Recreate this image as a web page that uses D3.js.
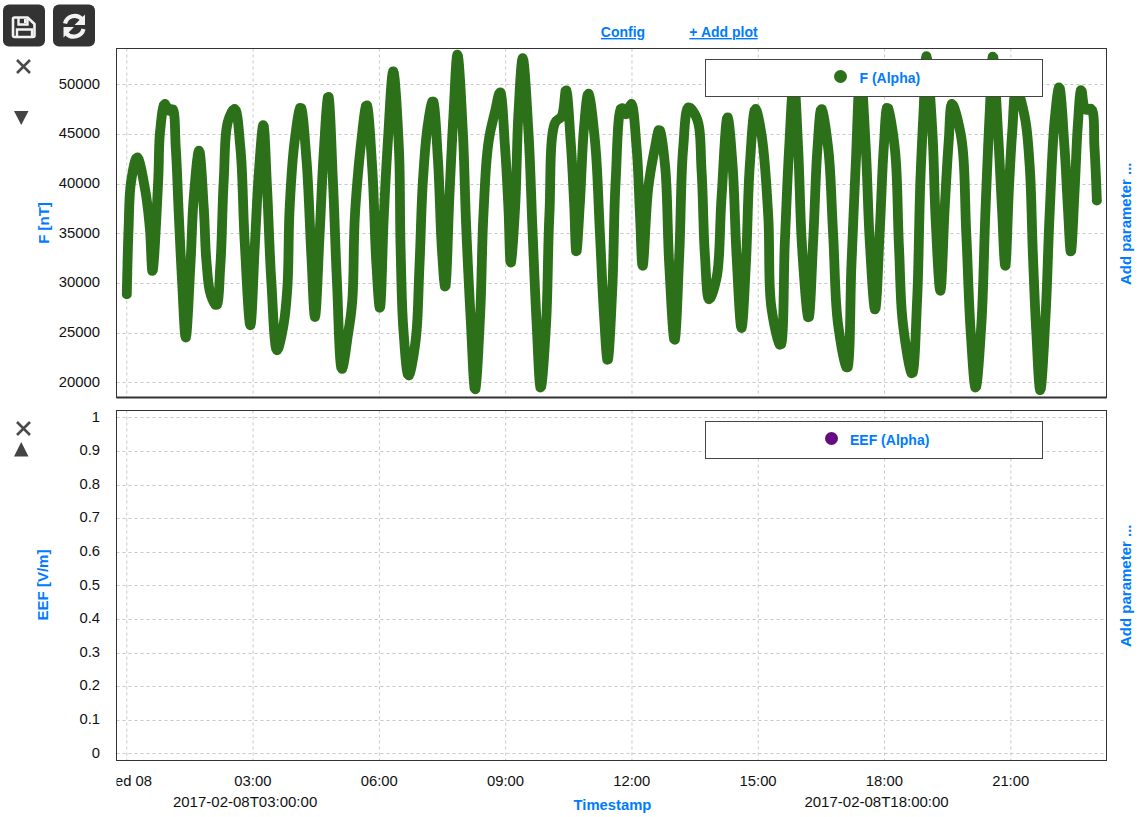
<!DOCTYPE html>
<html><head><meta charset="utf-8">
<script src="https://cdn.jsdelivr.net/npm/d3@7"></script>
<style>
html,body{margin:0;padding:0;background:#fff;overflow:hidden}
svg{display:block}
text{font-family:"Liberation Sans",Arial,sans-serif}
.tick text{font-size:14.8px;fill:#111}
.blue{fill:#007bff;font-weight:bold;font-size:14px}
.grid line{stroke:#c8c8c8;stroke-dasharray:3 3;stroke-width:1}
.domain{display:none}
</style></head><body>
<svg id="c" width="1146" height="817"></svg>
<script>
// minutes after 2017-02-08T00:00 and F [nT]
const fMinutes=[0,2.4,6.2,14.8,25.7,32.8,36.6,44.7,47.5,54.1,59.8,65,69.8,74.1,78.8,84,90.7,95.4,103,109.7,113.5,119.6,127.7,133.4,138.1,144.3,153.8,161.9,168,176.1,182.3,188,194.6,199.9,206,214.1,222.6,228.8,232.1,239.2,247.8,255.9,263,268.2,274.8,280.5,287.2,293.8,299.5,306.6,315.2,321.3,325.2,334.2,341.8,349.8,355.5,360.7,366.4,372.1,379.7,387.8,390.2,394.4,401.6,411.5,417.2,422,429.1,436.2,443.3,449,453.8,459.9,465.6,
471.3,478.9,483.6,490.3,496.4,503.6,508.3,515.4,524.9,532,539.1,543.9,547.2,553.4,558.1,564.3,572.4,578.5,584.2,589.9,597.5,602.3,610.3,619.8,626,632.6,637.4,640.7,645.9,651.6,657.8,667.3,674.4,680.1,685.3,692,696.7,705.3,712.4,719,726.6,731.4,735.2,743.2,752.7,758.9,767,773.1,780.7,787.4,793,800.7,813,819.2,823.9,830,840.5,847.6,856.2,863.3,869,876.1,882.3,888,896,904.6,914.1,918.8,
931.7,937.9,944,950.7,956.8,962.5,971.6,978.2,984.4,990,999.6,1006.7,1013.8,1026.6,1032.8,1038.9,1045.6,1053.2,1058.9,1066.5,1073.1,1078.8,1084,1094.5,1100.6,1106.3,1119.2,1126.3,1131,1135.8,1139.6,1148.1,1152.9,1159.5,1165.7,1171.4,1176.1,1189.4,1196.5,1202.7,1209.8,1217.9,1223.6,1229.7,1234.5,1241.6,1247.3,1252,1257.3,1262,1267.7,1279.6,1286.7,1291.4,1296.2,1301.9,1309.5,1315.2,1322.3,1328.9,1336.5,1341.3,1345.5,1350.8,1355.5,1360.3,1366.4,1374.5,1379.2,1382.6];
const fValues=[28860,35200,40230,42650,39560,35540,31175,40230,45270,48020,47300,47520,43590,36880,30170,24500,31840,38556,43320,37550,32180,28825,27750,31840,40230,46275,47520,43590,34195,25740,33520,40905,45900,39560,30165,23220,25470,29500,37550,44260,47680,42580,32850,26580,34865,42920,48790,40230,30165,21340,24800,28150,36880,44260,47920,41580,32180,27480,36880,44260,51300,43590,33520,25130,20670,24125,31840,40230,45940,48320,42580,33520,29600,38890,46950,
52990,45268,35870,26140,19260,26810,36880,44100,47280,49200,43590,37550,32010,37550,46950,52620,45268,34865,25800,19430,25800,36880,46100,46780,49430,44260,38220,33120,38220,45600,49060,44260,34865,26810,22210,29500,40230,47620,46950,48020,43590,36880,31710,39560,43590,45440,41910,31840,24230,32850,43590,47680,46440,41240,32850,28360,30500,38556,46680,41910,32850,25470,31840,41910,47520,44930,36880,27480,
23730,34195,43590,50500,43590,33520,26480,34195,43590,47520,43590,34865,25800,21440,31840,41910,51300,43590,34195,27320,35200,43590,47680,43590,33520,25800,20870,28150,40230,47620,52820,45268,36200,29200,37550,44260,48020,44600,34865,25130,19430,25800,36880,46950,52820,45268,37550,31710,39560,45268,49600,46780,41910,32850,25130,19200,26810,36880,46275,49700,43590,37550,33120,39230,45940,49430,47450,47520,43590,38220];
const fTicks=[20000,25000,30000,35000,40000,45000,50000];
const eefTicks=[0,0.1,0.2,0.3,0.4,0.5,0.6,0.7,0.8,0.9,1];
const timeTickHours=[0,3,6,9,12,15,18,21];
const timeTickLabels=["Wed 08","03:00","06:00","09:00","12:00","15:00","18:00","21:00"];
const extraTimeLabels=[{h:3,text:"2017-02-08T03:00:00"},{h:18,text:"2017-02-08T18:00:00"}];

const T0=Date.UTC(2017,1,8);
const t=m=>new Date(T0+m*60000);
const svg=d3.select("#c");
const L=116.5,R=1106.5;
const x=d3.scaleUtc().domain([t(-14.67),t(1396.3)]).range([L,R]);
const P1={top:48.5,bottom:397.5}, P2={top:410.5,bottom:760.5};
const y1=d3.scaleLinear().domain([20000,50000]).range([382.3,84.3]);
const y2=d3.scaleLinear().domain([0,1]).range([753.3,417.3]);
const DARK="#333";

const defs=svg.append("defs");
defs.append("clipPath").attr("id","xclip").append("rect").attr("x",L).attr("y",765).attr("width",R-L+40).attr("height",30);

function panel(P,y,ticks,fmt){
  const g=svg.append("g");
  g.append("g").attr("class","grid").selectAll("line").data(ticks).join("line")
    .attr("x1",L).attr("x2",R).attr("y1",d=>Math.round(y(d))+.5).attr("y2",d=>Math.round(y(d))+.5);
  g.append("g").attr("class","grid").selectAll("line").data(timeTickHours).join("line")
    .attr("x1",d=>x(t(d*60))).attr("x2",d=>x(t(d*60))).attr("y1",P.top).attr("y2",P.bottom);
  const ax=d3.axisLeft(y).tickValues(ticks).tickFormat(fmt).tickSize(0).tickPadding(0);
  g.append("g").attr("transform","translate(100,-1)").call(ax);
  return g;
}
panel(P1,y1,fTicks,d3.format("d"));
panel(P2,y2,eefTicks,d=>String(d));

// F series: closely spaced round dots along the path
const line=d3.line().x((d,i)=>x(t(fMinutes[i]))).y((d,i)=>y1(fValues[i])).curve(d3.curveCatmullRom.alpha(0.5));
svg.append("path").datum(fValues).attr("d",line).attr("fill","none")
  .attr("stroke","#2c701a").attr("stroke-width",10).attr("stroke-linecap","round").attr("stroke-linejoin","round")
  .attr("stroke-dasharray","0 2.2");

function frame(P){
  svg.append("rect").attr("x",L).attr("y",P.top).attr("width",R-L).attr("height",P.bottom-P.top)
    .attr("fill","none").attr("stroke",DARK).attr("stroke-width",1);
}
frame(P1);frame(P2);
svg.append("line").attr("x1",L).attr("x2",R).attr("y1",397.5).attr("y2",397.5).attr("stroke",DARK).attr("stroke-width",2);

function legend(yTop,cx,tx,color,label){
  svg.append("rect").attr("x",705.5).attr("y",yTop).attr("width",337).attr("height",37)
    .attr("fill","#fff").attr("stroke","#444").attr("stroke-width",1);
  svg.append("circle").attr("cx",cx).attr("cy",yTop+17).attr("r",6.5).attr("fill",color);
  svg.append("text").attr("class","blue").attr("x",tx).attr("y",yTop+23).text(label);
}
legend(59.5,840.5,859.5,"#2c701a","F (Alpha)");
legend(421.5,831.5,850,"#660a82","EEF (Alpha)");

// time axis
const xa=d3.axisBottom(x).tickValues(timeTickHours.map(h=>t(h*60))).tickSize(0).tickPadding(0)
  .tickFormat((d,i)=>timeTickLabels[i]);
svg.append("g").attr("clip-path","url(#xclip)")
  .append("g").attr("transform","translate(-0.7,775)").call(xa);
svg.selectAll(null).data(extraTimeLabels).join("text")
  .attr("x",d=>x(t(d.h*60))-8).attr("y",807).attr("text-anchor","middle").style("font-size","15px").attr("fill","#111").text(d=>d.text);
svg.append("text").attr("class","blue").attr("x",612.5).attr("y",810).attr("text-anchor","middle").style("font-size","14.800px").text("Timestamp");

function rotLabel(px,py,s,anchor){
  svg.append("text").attr("class","blue").attr("transform",`translate(${px},${py}) rotate(-90)`)
   .attr("text-anchor",anchor).style("font-size","15px").text(s);
}
rotLabel(49,223,"F [nT]","middle");
rotLabel(48,585,"EEF [V/m]","middle");
rotLabel(1131,285,"Add parameter ...","start");
rotLabel(1131,647,"Add parameter ...","start");

function link(cx,s){
  svg.append("text").attr("class","blue").attr("x",cx).attr("y",37).attr("text-anchor","middle")
    .style("text-decoration","underline").text(s);
}
link(623,"Config");link(723.500,"+ Add plot");

// buttons
function btn(bx){svg.append("rect").attr("x",bx).attr("y",4.5).attr("width",42).attr("height",42).attr("rx",6).attr("fill",DARK);}
btn(3);btn(53);
const ic="#f2f2f2";
svg.append("path").attr("fill","none").attr("stroke",ic).attr("stroke-width",2.6).attr("stroke-linejoin","round")
  .attr("d","M15 17.500h12.500l7 6.500v11.500a1.500 1.500 0 0 1 -1.500 1.500h-18.500a1.500 1.500 0 0 1 -1.500 -1.500v-16.500a1.500 1.500 0 0 1 1.500 -1.500z");
svg.append("path").attr("fill","none").attr("stroke",ic).attr("stroke-width",2.4)
  .attr("d","M18.500 18v6.500h9v-6.500M17 36.500v-7h15v7");
svg.append("rect").attr("x",24).attr("y",19).attr("width",2.600).attr("height",4).attr("fill",ic);
// refresh icon
svg.append("path").attr("fill","none").attr("stroke",ic).attr("stroke-width",4.2)
  .attr("d","M65 23.500a10 10 0 0 1 17 -4.500M83.500 29a10 10 0 0 1 -17 4.500");
svg.append("path").attr("fill",ic).attr("d","M85 14.500v10.500h-10.500zM63.500 37.500v-10.500h10.500z");

// panel controls
function cross(cx,cy){
  svg.append("path").attr("stroke","#4a4a4a").attr("stroke-width",2.6).attr("fill","none")
   .attr("d",`M${cx-6.500} ${cy-6.500}L${cx+6.500} ${cy+6.500}M${cx+6.500} ${cy-6.500}L${cx-6.500} ${cy+6.500}`);
}
cross(23.5,66.5);cross(23.5,428.5);
svg.append("path").attr("fill","#444").attr("d","M14 111h14.500l-7.250 14z");
svg.append("path").attr("fill","#444").attr("d","M14 456.500h14.500l-7.250 -14.500z");
</script>
</body></html>
